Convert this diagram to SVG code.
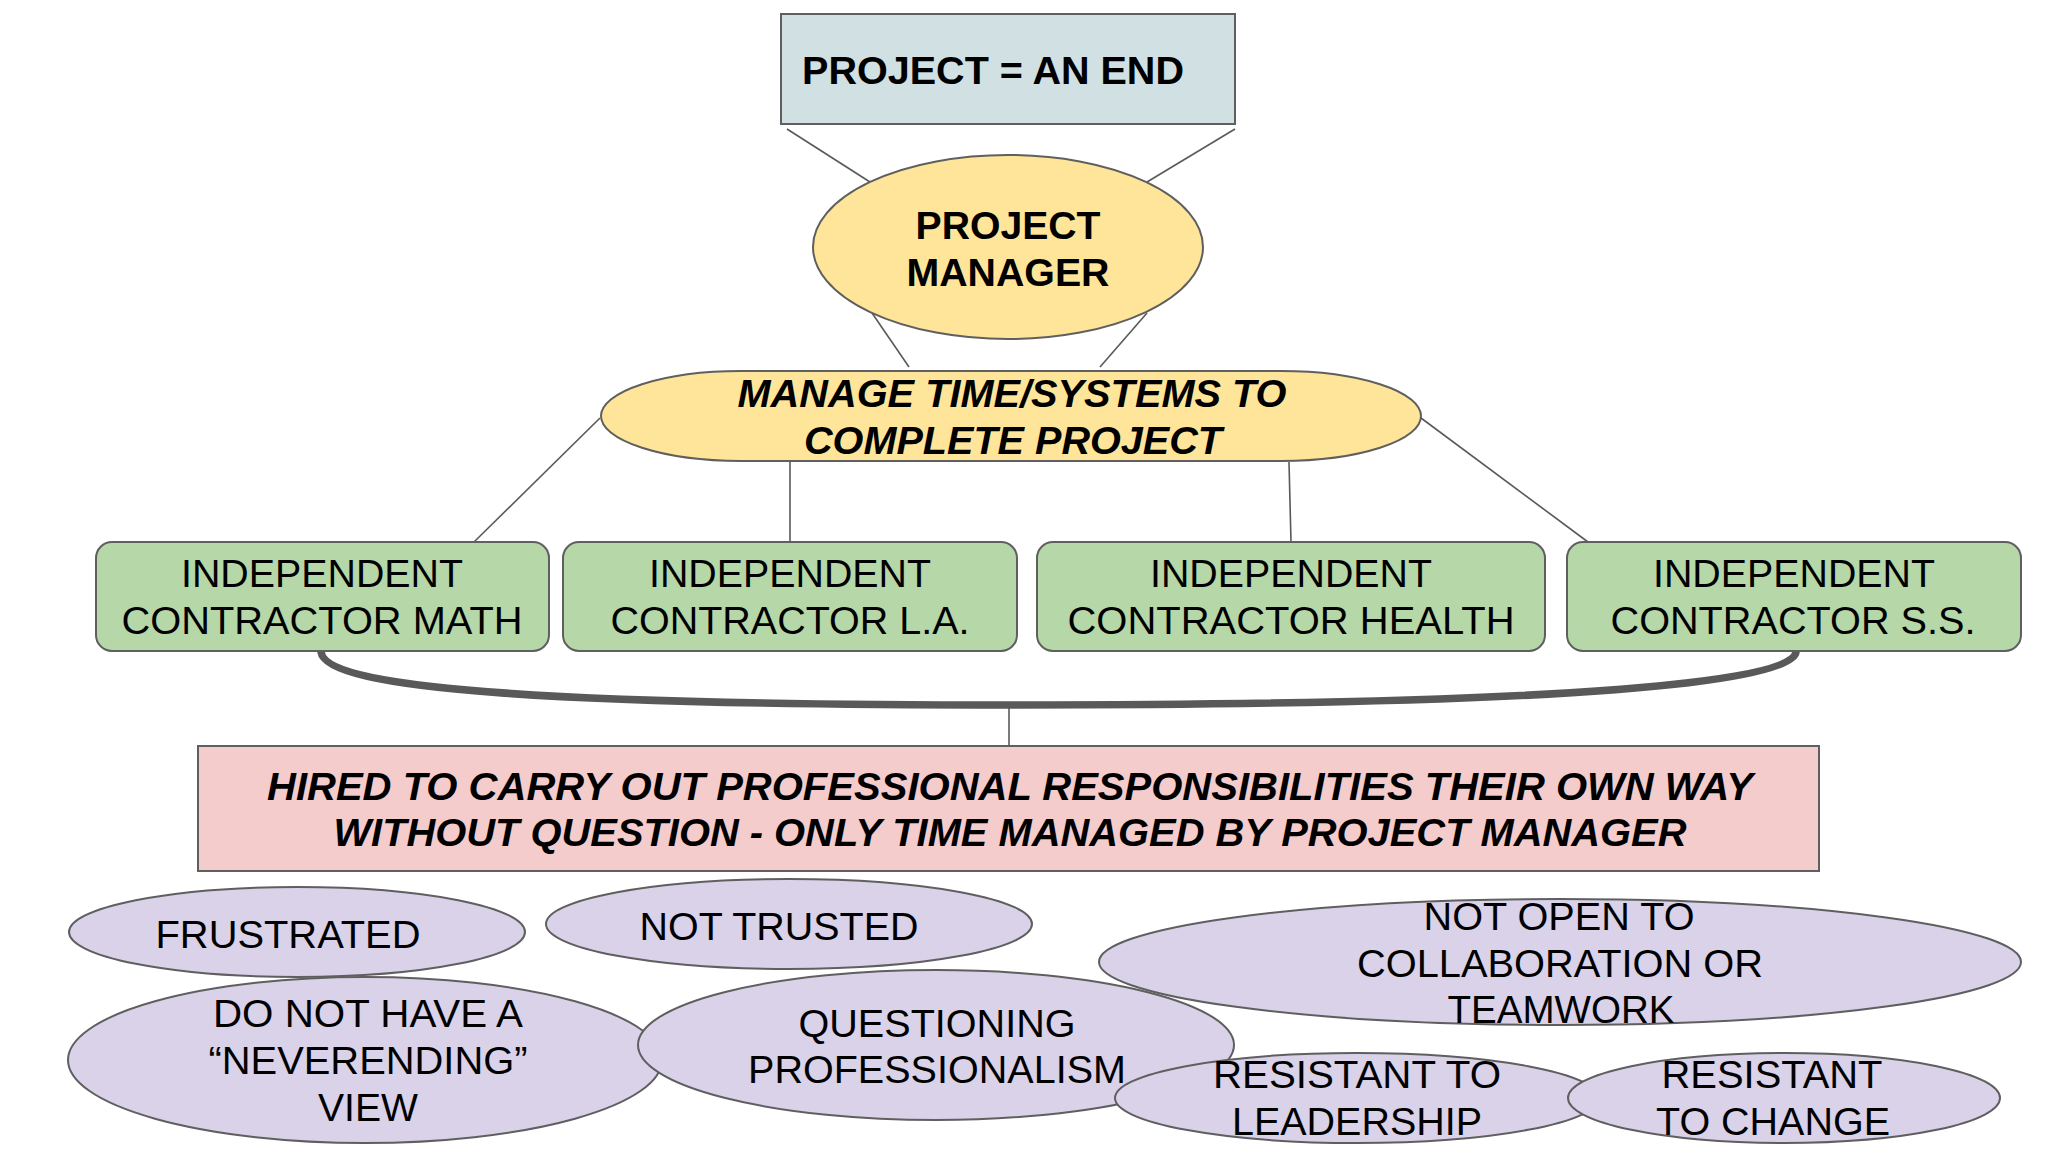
<svg xmlns="http://www.w3.org/2000/svg" width="2048" height="1152" viewBox="0 0 2048 1152">
<style>
.shape{stroke:#5f5f5f;stroke-width:2}
.blue{fill:#d0e0e3}
.yellow{fill:#ffe599}
.green{fill:#b6d7a8}
.pink{fill:#f4cccc}
.purple{fill:#d9d2e9}
.line{stroke:#595959;stroke-width:1.6;fill:none}
.brace{stroke:#595959;stroke-width:7.5;fill:none;stroke-linecap:round}
text{font-family:"Liberation Sans",Arial,sans-serif;fill:#000;font-size:39px}
.c{text-anchor:middle}
.b{font-weight:bold}
.bi{font-weight:bold;font-style:italic}
</style>
<rect width="2048" height="1152" fill="#ffffff"/>
<g id="connectors">
<line class="line" x1="787" y1="129" x2="870" y2="182"/>
<line class="line" x1="1235" y1="129" x2="1147" y2="182"/>
<line class="line" x1="872" y1="313" x2="909" y2="367"/>
<line class="line" x1="1147" y1="313" x2="1100" y2="367"/>
<line class="line" x1="600" y1="418" x2="474" y2="542"/>
<line class="line" x1="790" y1="462" x2="790" y2="542"/>
<line class="line" x1="1289" y1="462" x2="1291" y2="542"/>
<line class="line" x1="1421" y1="418" x2="1588" y2="542"/>
<path class="brace" d="M321,652 C326,690 560,705 1009,705 C1460,705 1792,690 1796,652"/>
<line class="line" x1="1009" y1="705" x2="1009" y2="746"/>
</g>
<g id="project-end">
<rect class="shape blue" x="781" y="14" width="454" height="110"/>
<text class="b" x="802" y="84" textLength="382" lengthAdjust="spacingAndGlyphs">PROJECT = AN END</text>
</g>
<g id="project-manager">
<ellipse class="shape yellow" cx="1008" cy="247" rx="195" ry="92"/>
<text class="b c" x="1008" y="239" textLength="185" lengthAdjust="spacingAndGlyphs">PROJECT</text>
<text class="b c" x="1008" y="286" textLength="203" lengthAdjust="spacingAndGlyphs">MANAGER</text>
</g>
<g id="manage-time">
<rect class="shape yellow" x="601" y="371" width="820" height="90" rx="140" ry="45"/>
<text class="bi c" x="1012" y="407" font-size="40" textLength="549" lengthAdjust="spacingAndGlyphs">MANAGE TIME/SYSTEMS TO</text>
<text class="bi c" x="1013" y="454" font-size="40" textLength="418" lengthAdjust="spacingAndGlyphs">COMPLETE PROJECT</text>
</g>
<g id="contractor-math">
<rect class="shape green" x="96" y="542" width="453" height="109" rx="16"/>
<text class="c" x="322" y="587" textLength="282" lengthAdjust="spacingAndGlyphs">INDEPENDENT</text>
<text class="c" x="322" y="634" textLength="401" lengthAdjust="spacingAndGlyphs">CONTRACTOR MATH</text>
</g>
<g id="contractor-la">
<rect class="shape green" x="563" y="542" width="454" height="109" rx="16"/>
<text class="c" x="790" y="587" textLength="282" lengthAdjust="spacingAndGlyphs">INDEPENDENT</text>
<text class="c" x="790" y="634" textLength="359" lengthAdjust="spacingAndGlyphs">CONTRACTOR L.A.</text>
</g>
<g id="contractor-health">
<rect class="shape green" x="1037" y="542" width="508" height="109" rx="16"/>
<text class="c" x="1291" y="587" textLength="282" lengthAdjust="spacingAndGlyphs">INDEPENDENT</text>
<text class="c" x="1291" y="634" textLength="447" lengthAdjust="spacingAndGlyphs">CONTRACTOR HEALTH</text>
</g>
<g id="contractor-ss">
<rect class="shape green" x="1567" y="542" width="454" height="109" rx="16"/>
<text class="c" x="1794" y="587" textLength="282" lengthAdjust="spacingAndGlyphs">INDEPENDENT</text>
<text class="c" x="1793" y="634" textLength="365" lengthAdjust="spacingAndGlyphs">CONTRACTOR S.S.</text>
</g>
<g id="hired">
<rect class="shape pink" x="198" y="746" width="1621" height="125"/>
<text class="bi c" x="1010" y="800" font-size="39.5" textLength="1486" lengthAdjust="spacingAndGlyphs">HIRED TO CARRY OUT PROFESSIONAL RESPONSIBILITIES THEIR OWN WAY</text>
<text class="bi c" x="1010" y="846" font-size="39.5" textLength="1353" lengthAdjust="spacingAndGlyphs">WITHOUT QUESTION - ONLY TIME MANAGED BY PROJECT MANAGER</text>
</g>
<g id="frustrated">
<ellipse class="shape purple" cx="297" cy="932" rx="228" ry="45"/>
<text class="c" x="288" y="948" textLength="265" lengthAdjust="spacingAndGlyphs">FRUSTRATED</text>
</g>
<g id="not-trusted">
<ellipse class="shape purple" cx="789" cy="924" rx="243" ry="45"/>
<text class="c" x="779" y="940" textLength="279" lengthAdjust="spacingAndGlyphs">NOT TRUSTED</text>
</g>
<g id="neverending">
<ellipse class="shape purple" cx="365" cy="1060" rx="297" ry="83"/>
<text class="c" x="368" y="1027" textLength="310" lengthAdjust="spacingAndGlyphs">DO NOT HAVE A</text>
<text class="c" x="368" y="1074" textLength="319" lengthAdjust="spacingAndGlyphs">“NEVERENDING”</text>
<text class="c" x="368" y="1121" textLength="100" lengthAdjust="spacingAndGlyphs">VIEW</text>
</g>
<g id="questioning">
<ellipse class="shape purple" cx="936" cy="1045" rx="298" ry="75"/>
<text class="c" x="937" y="1037" textLength="277" lengthAdjust="spacingAndGlyphs">QUESTIONING</text>
<text class="c" x="937" y="1083" textLength="378" lengthAdjust="spacingAndGlyphs">PROFESSIONALISM</text>
</g>
<g id="not-open">
<ellipse class="shape purple" cx="1560" cy="962" rx="461" ry="63"/>
<text class="c" x="1559" y="930" textLength="271" lengthAdjust="spacingAndGlyphs">NOT OPEN TO</text>
<text class="c" x="1560" y="977" textLength="406" lengthAdjust="spacingAndGlyphs">COLLABORATION OR</text>
<text class="c" x="1561" y="1023" textLength="227" lengthAdjust="spacingAndGlyphs">TEAMWORK</text>
</g>
<g id="resistant-leadership">
<ellipse class="shape purple" cx="1357" cy="1098" rx="242" ry="45"/>
<text class="c" x="1357" y="1088" textLength="288" lengthAdjust="spacingAndGlyphs">RESISTANT TO</text>
<text class="c" x="1357" y="1135" textLength="250" lengthAdjust="spacingAndGlyphs">LEADERSHIP</text>
</g>
<g id="resistant-change">
<ellipse class="shape purple" cx="1784" cy="1098" rx="216" ry="45"/>
<text class="c" x="1772" y="1088" textLength="221" lengthAdjust="spacingAndGlyphs">RESISTANT</text>
<text class="c" x="1773" y="1135" textLength="234" lengthAdjust="spacingAndGlyphs">TO CHANGE</text>
</g>
</svg>
